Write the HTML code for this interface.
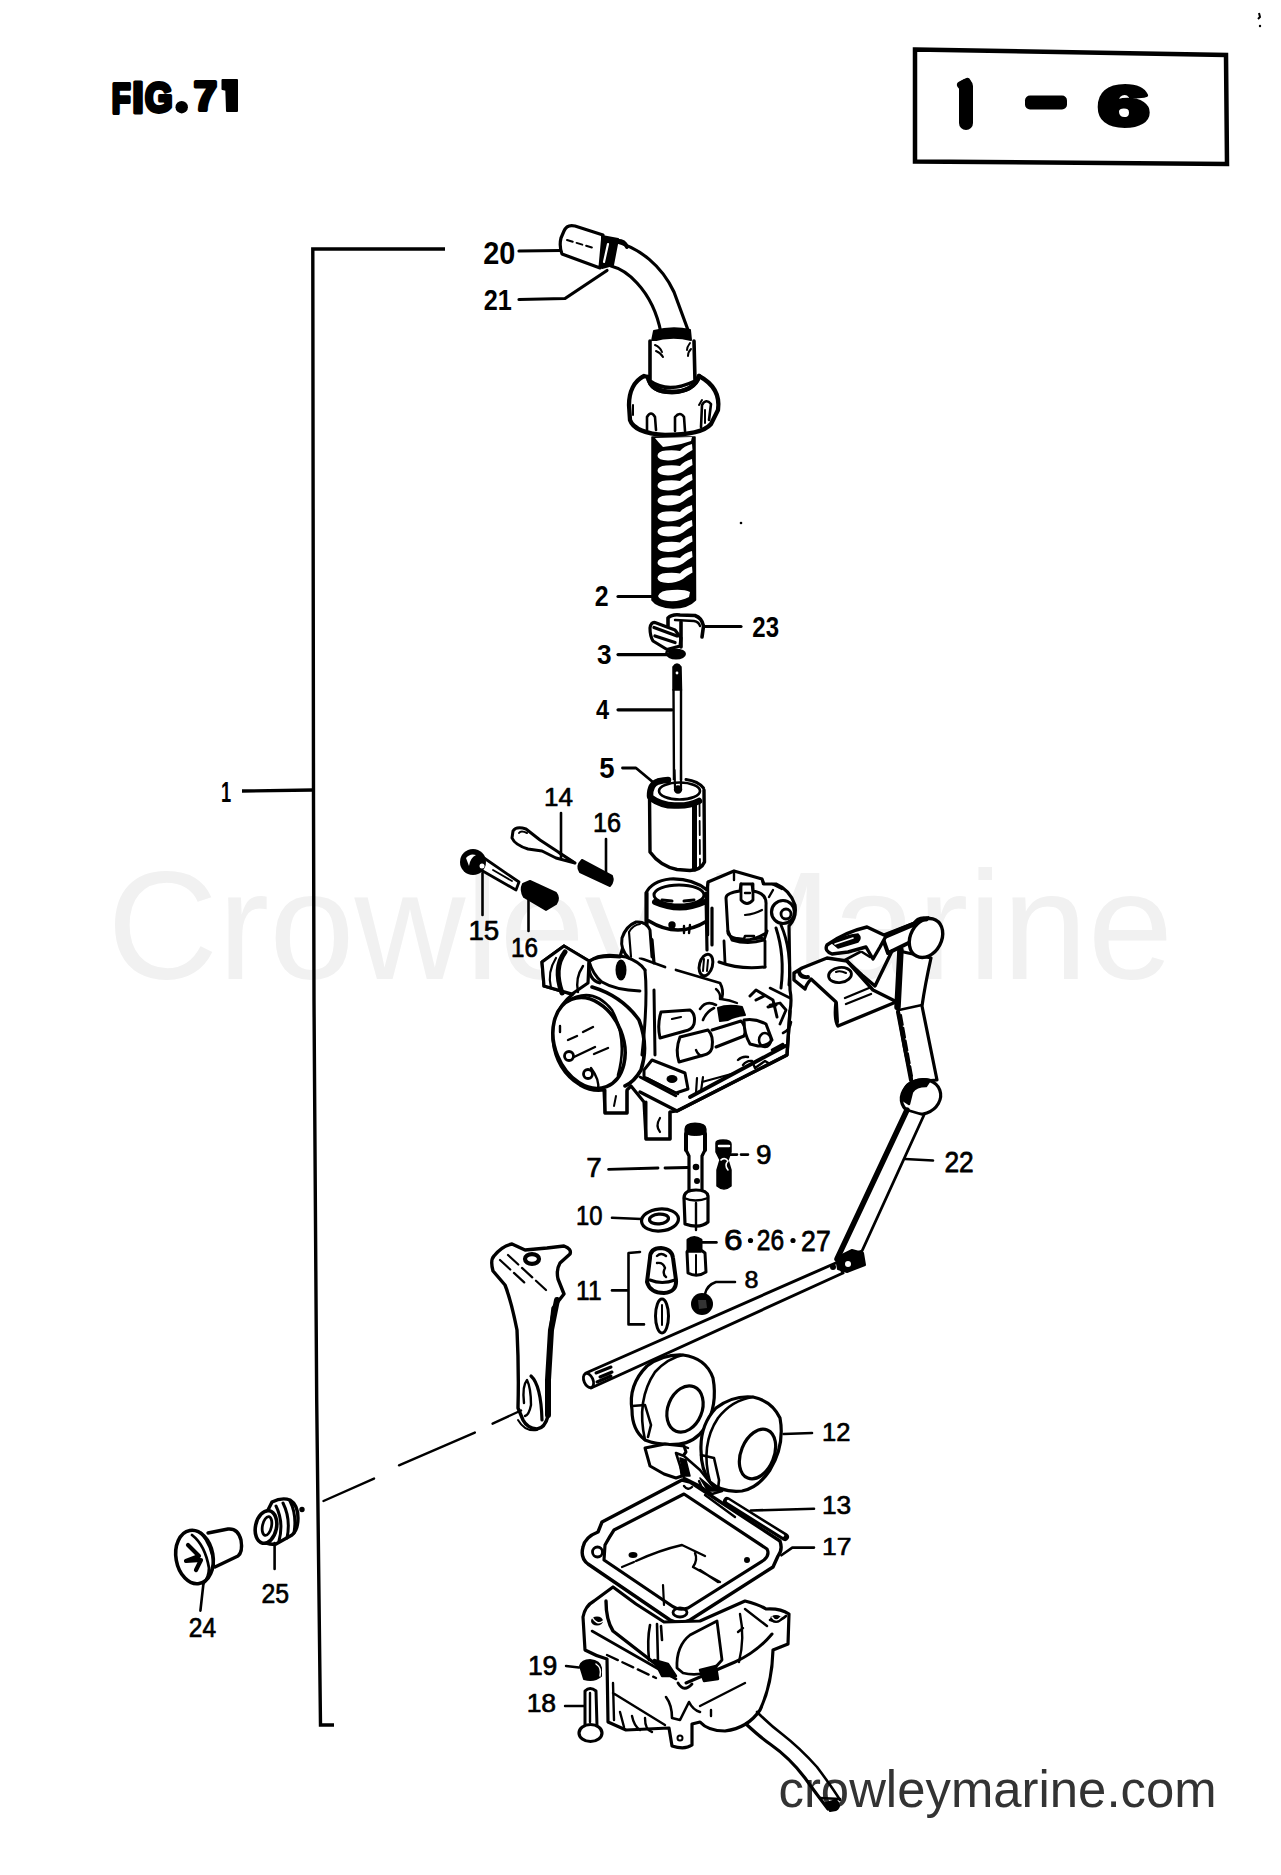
<!DOCTYPE html>
<html><head><meta charset="utf-8"><title>Fig 71</title>
<style>html,body{margin:0;padding:0;background:#fff;} svg{display:block;}</style></head>
<body><svg width="1281" height="1875" viewBox="0 0 1281 1875">
<rect width="1281" height="1875" fill="#fff"/>
<text transform="translate(107.33,978.83) scale(1.5343,1.5319)" font-family="Liberation Sans, sans-serif" font-weight="normal" font-size="100" fill="#f1f1f1" >Crowley Marine</text>
<text transform="translate(111.83,112.50) scale(0.3100,0.4275)" font-family="Liberation Sans, sans-serif" font-weight="bold" font-size="100" fill="#000" stroke="#000" stroke-width="9.36" stroke-linejoin="round">F</text>
<text transform="translate(131.75,113.00) scale(0.4500,0.4420)" font-family="Liberation Sans, sans-serif" font-weight="bold" font-size="100" fill="#000" stroke="#000" stroke-width="6.79" stroke-linejoin="round">I</text>
<text transform="translate(145.08,112.08) scale(0.3544,0.4225)" font-family="Liberation Sans, sans-serif" font-weight="bold" font-size="100" fill="#000" stroke="#000" stroke-width="9.47" stroke-linejoin="round">G</text>
<circle cx="181.7" cy="107.2" r="6.2" fill="#000"/>
<text transform="translate(194.06,110.41) scale(0.4106,0.4118)" font-family="Liberation Sans, sans-serif" font-weight="bold" font-size="100" fill="#000" stroke="#000" stroke-width="9.71" stroke-linejoin="round">7</text>
<path d="M226,80 L237,80 L237,111 L227,111 Z M222.5,80 L227,80 L227,90 L222.5,89 Z" fill="#000" stroke="#000" stroke-width="2" stroke-linejoin="round"/>
<path d="M915,49.5 L1226,55 L1227,164 L915,161.5 Z" fill="none" stroke="#000" stroke-width="4.5"/>
<path d="M966,86 L966,123" stroke="#000" stroke-width="14" stroke-linecap="round"/>
<path d="M961,85 L967,82" stroke="#000" stroke-width="8" stroke-linecap="round"/>
<rect x="1025" y="95.5" width="42" height="14" rx="5" fill="#000"/>
<text transform="translate(1098.38,124.95) scale(0.9062,0.5493)" font-family="Liberation Sans, sans-serif" font-weight="bold" font-size="100" fill="#000" stroke="#000" stroke-width="9.10" stroke-linejoin="round">6</text>
<path d="M1259,13 L1260,17 L1258,19" stroke="#000" stroke-width="2" fill="none"/><circle cx="1260" cy="26" r="1.2" fill="#000"/>
<path d="M445,249 L312.8,249 L313.5,800 L314,1000 L316.7,1400 L320.5,1725 L334,1725" fill="none" stroke="#000" stroke-width="3.4"/>
<path d="M242,791 L313,790" stroke="#000" stroke-width="3.3"/>
<text transform="translate(483.13,264.18) scale(0.2885,0.3169)" font-family="Liberation Sans, sans-serif" font-weight="bold" font-size="100" fill="#000" >20</text>
<text transform="translate(483.74,310.00) scale(0.2524,0.3036)" font-family="Liberation Sans, sans-serif" font-weight="bold" font-size="100" fill="#000" >21</text>
<text transform="translate(594.85,606.00) scale(0.2490,0.3000)" font-family="Liberation Sans, sans-serif" font-weight="bold" font-size="100" fill="#000" >2</text>
<text transform="translate(752.28,637.41) scale(0.2404,0.2915)" font-family="Liberation Sans, sans-serif" font-weight="bold" font-size="100" fill="#000" >23</text>
<text transform="translate(596.98,663.72) scale(0.2620,0.2817)" font-family="Liberation Sans, sans-serif" font-weight="bold" font-size="100" fill="#000" >3</text>
<text transform="translate(596.03,719.00) scale(0.2358,0.2826)" font-family="Liberation Sans, sans-serif" font-weight="bold" font-size="100" fill="#000" >4</text>
<text transform="translate(599.17,778.45) scale(0.2750,0.3036)" font-family="Liberation Sans, sans-serif" font-weight="bold" font-size="100" fill="#000" >5</text>
<text transform="translate(543.92,806.00) scale(0.2600,0.2522)" font-family="Liberation Sans, sans-serif" font-weight="normal" font-size="100" fill="#000" stroke="#000" stroke-width="2.6" stroke-linejoin="round">14</text>
<text transform="translate(592.98,832.02) scale(0.2525,0.2775)" font-family="Liberation Sans, sans-serif" font-weight="normal" font-size="100" fill="#000" stroke="#000" stroke-width="2.6" stroke-linejoin="round">16</text>
<text transform="translate(468.39,940.22) scale(0.2768,0.2814)" font-family="Liberation Sans, sans-serif" font-weight="normal" font-size="100" fill="#000" stroke="#000" stroke-width="2.6" stroke-linejoin="round">15</text>
<text transform="translate(511.06,956.72) scale(0.2424,0.2817)" font-family="Liberation Sans, sans-serif" font-weight="normal" font-size="100" fill="#000" stroke="#000" stroke-width="2.6" stroke-linejoin="round">16</text>
<text transform="translate(220.90,802.00) scale(0.1830,0.2899)" font-family="Liberation Sans, sans-serif" font-weight="bold" font-size="100" fill="#000" >1</text>
<text transform="translate(586.21,1177.28) scale(0.2783,0.2794)" font-family="Liberation Sans, sans-serif" font-weight="normal" font-size="100" fill="#000" stroke="#000" stroke-width="2.6" stroke-linejoin="round">7</text>
<text transform="translate(756.01,1163.73) scale(0.2783,0.2676)" font-family="Liberation Sans, sans-serif" font-weight="normal" font-size="100" fill="#000" stroke="#000" stroke-width="2.6" stroke-linejoin="round">9</text>
<text transform="translate(576.09,1224.72) scale(0.2384,0.2817)" font-family="Liberation Sans, sans-serif" font-weight="normal" font-size="100" fill="#000" stroke="#000" stroke-width="2.6" stroke-linejoin="round">10</text>
<text transform="translate(723.93,1250.20) scale(0.3348,0.2958)" font-family="Liberation Sans, sans-serif" font-weight="normal" font-size="100" fill="#000" stroke="#000" stroke-width="2.6" stroke-linejoin="round">6</text>
<text transform="translate(756.77,1250.20) scale(0.2451,0.2958)" font-family="Liberation Sans, sans-serif" font-weight="normal" font-size="100" fill="#000" stroke="#000" stroke-width="2.6" stroke-linejoin="round">26</text>
<text transform="translate(801.07,1250.50) scale(0.2663,0.3000)" font-family="Liberation Sans, sans-serif" font-weight="normal" font-size="100" fill="#000" stroke="#000" stroke-width="2.6" stroke-linejoin="round">27</text>
<text transform="translate(744.60,1287.75) scale(0.2511,0.2465)" font-family="Liberation Sans, sans-serif" font-weight="normal" font-size="100" fill="#000" stroke="#000" stroke-width="2.6" stroke-linejoin="round">8</text>
<text transform="translate(576.03,1300.00) scale(0.2462,0.2754)" font-family="Liberation Sans, sans-serif" font-weight="normal" font-size="100" fill="#000" stroke="#000" stroke-width="2.6" stroke-linejoin="round">11</text>
<text transform="translate(944.38,1171.60) scale(0.2634,0.2943)" font-family="Liberation Sans, sans-serif" font-weight="normal" font-size="100" fill="#000" stroke="#000" stroke-width="2.6" stroke-linejoin="round">22</text>
<text transform="translate(821.96,1440.50) scale(0.2551,0.2643)" font-family="Liberation Sans, sans-serif" font-weight="normal" font-size="100" fill="#000" stroke="#000" stroke-width="2.6" stroke-linejoin="round">12</text>
<text transform="translate(821.90,1513.54) scale(0.2626,0.2648)" font-family="Liberation Sans, sans-serif" font-weight="normal" font-size="100" fill="#000" stroke="#000" stroke-width="2.6" stroke-linejoin="round">13</text>
<text transform="translate(821.88,1555.00) scale(0.2653,0.2464)" font-family="Liberation Sans, sans-serif" font-weight="normal" font-size="100" fill="#000" stroke="#000" stroke-width="2.6" stroke-linejoin="round">17</text>
<text transform="translate(527.88,1674.73) scale(0.2653,0.2676)" font-family="Liberation Sans, sans-serif" font-weight="normal" font-size="100" fill="#000" stroke="#000" stroke-width="2.6" stroke-linejoin="round">19</text>
<text transform="translate(526.63,1712.24) scale(0.2652,0.2641)" font-family="Liberation Sans, sans-serif" font-weight="normal" font-size="100" fill="#000" stroke="#000" stroke-width="2.6" stroke-linejoin="round">18</text>
<text transform="translate(261.46,1602.73) scale(0.2480,0.2676)" font-family="Liberation Sans, sans-serif" font-weight="normal" font-size="100" fill="#000" stroke="#000" stroke-width="2.6" stroke-linejoin="round">25</text>
<text transform="translate(188.77,1637.30) scale(0.2456,0.2757)" font-family="Liberation Sans, sans-serif" font-weight="normal" font-size="100" fill="#000" stroke="#000" stroke-width="2.6" stroke-linejoin="round">24</text>
<circle cx="750.5" cy="1240.5" r="2.6" fill="#000"/><circle cx="793" cy="1240.5" r="2.6" fill="#000"/>
<text transform="translate(778.46,1806.55) scale(0.5088,0.5213)" font-family="Liberation Sans, sans-serif" font-weight="normal" font-size="100" fill="#333333" >crowleymarine.com</text>
<g fill="none" stroke="#000" stroke-width="3.2" stroke-linejoin="round" stroke-linecap="round">
<!-- leaders 20/21 -->
<path d="M519,251 L561,250.5"/>
<path d="M519,299.5 L565,298.5 L607,270.5"/>
<!-- hose -->
<path d="M614,241 C640,248 662,266 674,292 L688,330 L661,333 C657,312 650,297 637,283 C628,273 619,268 611,266 Z" fill="#fff"/>
<!-- cap 20 -->
<path d="M564,231 Q567,224 575,226 L603,235 L600,268 L562,254 Q559,246 561,238 Z" fill="#fff"/>
<path d="M567,240 L595,248.5" stroke-width="2" stroke-dasharray="6,4"/>
<!-- ring 21 -->
<path d="M602,236 L618,239 L613,265 L602,268 Z" fill="#000" stroke-width="2"/>
<path d="M608,244 L604,262" stroke="#fff" stroke-width="2.2"/>
<path d="M616,241 Q624,240 627,247" stroke-width="4"/>
<!-- hose bottom collar -->
<path d="M654,331 Q672,326 690,330 L691,340 Q672,335 652,341 Z" fill="#000" stroke-width="2"/>
<!-- fitting body -->
<path d="M650,341 L650,381 Q668,394 695,381 L694,341" fill="#fff" stroke-width="3.6"/>
<path d="M655,345 Q660,347 662,352 M656,351 Q661,353 663,357 M690,343 Q687,347 687,350 M691,349 Q688,352 688,356" stroke-width="2"/>
<!-- nut -->
<path d="M644,376 C634,381 629,392 629,405 L630,420 C633,429 647,434 665,435 C690,435 705,431 711,424 L718,410 C720,396 714,384 699,376 C696,387 685,392 672,392 C660,392 650,388 648,377 Z" fill="#fff" stroke-width="4.3"/>
<path d="M648,377 C650,388 660,392 672,392 C685,392 696,387 699,376" stroke-width="4.5"/>
<path d="M647,430 L647,417 Q651,410 655,417 L656,430" stroke-width="2.6"/>
<path d="M675,431 L675,417 Q680,411 684,417 L685,431" stroke-width="2.6"/>
<path d="M701,427 L702,405 Q706,398 711,404 L709,420" stroke-width="2.6"/>
<path d="M699,405 L702,400 M705,410 L705,423" stroke-width="2"/>
<path d="M633,405 L633,415" stroke-width="2"/>
<!-- spring -->
<path d="M652,437 L695,437 L695.5,600 Q688,608 673,608 Q657,607 652,600 Z" fill="#000" stroke-width="1.5"/>
<g fill="#fff" stroke="none">
<path d="M655,438 L692,437 L691,441 Q680,445 670,446 L663,447 Q658,442 655,438 Z"/>
<path d="M657.5,456 Q657.5,451 666,450.5 Q675,450 680,451 Q684,446 692,444 L692.5,450 Q687,453 683,456.5 Q676,460.5 668,460.5 Q658,460 657.5,456 Z"/>
<path d="M657.5,471 Q657.5,466 666,465.5 Q675,465 680,466 Q684,461 692,459 L692.5,465 Q687,468 683,471.5 Q676,475.5 668,475.5 Q658,475 657.5,471 Z"/>
<path d="M657.5,486 Q657.5,481 666,480.5 Q675,480 680,481 Q684,476 692,474 L692.5,480 Q687,483 683,486.5 Q676,490.5 668,490.5 Q658,490 657.5,486 Z"/>
<path d="M657.5,501 Q657.5,496 666,495.5 Q675,495 680,496 Q684,491 692,489 L692.5,495 Q687,498 683,501.5 Q676,505.5 668,505.5 Q658,505 657.5,501 Z"/>
<path d="M657.5,517 Q657.5,512 666,511.5 Q675,511 680,512 Q684,507 692,505 L692.5,511 Q687,514 683,517.5 Q676,521.5 668,521.5 Q658,521 657.5,517 Z"/>
<path d="M657.5,532 Q657.5,527 666,526.5 Q675,526 680,527 Q684,522 692,520 L692.5,526 Q687,529 683,532.5 Q676,536.5 668,536.5 Q658,536 657.5,532 Z"/>
<path d="M657.5,547.5 Q657.5,542.5 666,542.0 Q675,541.5 680,542.5 Q684,537.5 692,535.5 L692.5,541.5 Q687,544.5 683,548.0 Q676,552.0 668,552.0 Q658,551.5 657.5,547.5 Z"/>
<path d="M657.5,563 Q657.5,558 666,557.5 Q675,557 680,558 Q684,553 692,551 L692.5,557 Q687,560 683,563.5 Q676,567.5 668,567.5 Q658,567 657.5,563 Z"/>
<path d="M657.5,578.5 Q657.5,573.5 666,573.0 Q675,572.5 680,573.5 Q684,568.5 692,566.5 L692.5,572.5 Q687,575.5 683,579.0 Q676,583.0 668,583.0 Q658,582.5 657.5,578.5 Z"/>
<path d="M658,596 Q660,590 672,590 Q684,589 690,592 L689,597 Q680,602 668,601 Q659,600 658,596 Z"/>
</g>
<circle cx="741" cy="523" r="1.3" fill="#000" stroke="none"/>
<!-- leader 2 -->
<path d="M618,596.5 L652,596.5"/>
<!-- clip 23 -->
<path d="M650,628 Q651,622 655,622.5 L675,630 L681,638 L680,646 L667,649.5 L653,641 Q650,636 650,628 Z" fill="#fff" stroke-width="3.2"/>
<path d="M654,627.5 L677,636 M655,636 L675,642.5" stroke-width="3.4"/>
<path d="M668,626 L668,618 Q672,614 680,615 L695,615.5 Q702,618 703.5,626 L702,637" stroke-width="3.6"/>
<path d="M675,620 L694,621 Q699,622 700,626" stroke-width="2.4"/>
<path d="M681,622 L681,647" stroke-width="3.6"/>
<path d="M704,626.5 L741,626.5"/>
<!-- washer 3 -->
<ellipse cx="676" cy="654" rx="10" ry="5.5" fill="#000" stroke="none"/><circle cx="668" cy="653" r="1.2" fill="#fff"/>
<path d="M618,654.6 L668,654.6"/>
<!-- needle 4 -->
<path d="M673,667 Q677,661 681,667 L681.5,690 L673,690 Z" fill="#000" stroke-width="1.5"/>
<circle cx="677" cy="673" r="1.4" fill="#fff" stroke="none"/>
<path d="M673.5,690 L674,785 M681,690 L681,792" stroke-width="2.4"/>
<path d="M618,709.8 L672,709.8"/>
<!-- slide 5 -->
<path d="M649.5,795 Q650,780 676,780 Q702,780 704,792 L704.5,862 Q701,870 690,870.5 L677,869.5 Q660,866 650,852 Z" fill="#fff" stroke="none"/>
<path d="M649.5,793 L650,852 Q660,866 677,869.5 L690,870.5 Q701,870 704.5,862 L704,790" stroke-width="3.4"/>
<path d="M650,796 Q650,784 658,781.5 Q664,780 668,780" stroke-width="6.5"/>
<path d="M686,779.5 Q698,781 703.5,788" stroke-width="3"/>
<ellipse cx="679.5" cy="791" rx="20.5" ry="8.5" fill="#fff" stroke-width="2.6"/>
<path d="M651,798 Q662,806 676,805.5 Q690,806 699,801" stroke-width="6.5"/>
<path d="M694.5,805 L694.5,869" stroke-width="5"/>
<path d="M699.5,802 L700,866" stroke-width="1.8" stroke-dasharray="14,5"/>
<path d="M674.5,770 L675,788 M681,770 L681,790" stroke-width="2.2"/><circle cx="678" cy="789.5" r="2.6" fill="#000"/>
<path d="M622.5,768 L636,768 L654,783" stroke-width="2.8"/>
</g>

<g fill="none" stroke="#000" stroke-width="3" stroke-linejoin="round" stroke-linecap="round">
<!-- pilot screw 14 -->
<path d="M513,831 Q516,826 526,829 L540,840 L575,863 L556,858 L542,851 L528,849 Q515,845 512,838 Z" fill="#fff"/>
<path d="M519,833 Q521,830 527,833" stroke-width="2"/>
<path d="M559,853 L575,863" stroke-width="2.4"/>
<path d="M561,813 L561,858" stroke-width="2.6"/>
<!-- spring 16 upper -->
<path d="M582,860 L612,876 Q614,881 610,886 L580,872 Q576,866 582,860 Z" fill="#000" stroke-width="2"/>
<path d="M606,839 L606,873" stroke-width="2.6"/>
<!-- screw 15 -->
<path d="M484,858 L519,882 L516,890 L481,870 Z" fill="#fff" stroke-width="2.8"/>
<circle cx="473" cy="862" r="13" fill="#000" stroke="none"/>
<path d="M466,858 Q470,853 476,855 Q470,858 469,866 Z" fill="#fff" stroke="none"/>
<circle cx="482" cy="866" r="2.5" fill="#fff" stroke="none"/>
<path d="M493,870 L512,881" stroke-width="1.8"/>
<!-- spring 16 lower -->
<path d="M523,884 L530,881 L556,893 Q560,898 556,904 L546,910 L524,897 Q520,890 523,884 Z" fill="#000" stroke-width="2"/>
<path d="M482.5,873 L482.5,915" stroke-width="2.6"/>
<path d="M528.5,900 L528.5,931" stroke-width="2.6"/>
</g>

<g fill="none" stroke="#000" stroke-width="3" stroke-linejoin="round" stroke-linecap="round">
<!-- main silhouette -->
<path d="M646,893 Q652,881 670,879 Q692,878 707,890 L708,882 L734,871 L762,879 L764,884 L776,884 Q790,890 795,905 Q797,918 789,926 L790,990 Q792,1000 790,1011 L787,1055 L677,1111 L670,1112 L670,1139 L646,1139 L644,1102 L631,1086 L627,1090 L627,1113 L605,1113 L604,1090 Q592,1092 580,1085 Q556,1070 553,1040 Q552,1010 573,994 L571,994 L544,986 L542,962 L564,946 L589,961 Q600,955 620,957 L628,930 Q640,918 646,928 Z" fill="#fff" stroke-width="3.2"/>
<!-- slide bore top -->
<ellipse cx="679" cy="895" rx="25" ry="10" fill="#fff" stroke-width="3"/>
<path d="M655,902 Q680,913 704,902" stroke-width="6"/>
<path d="M649,921 Q678,939 707,921" stroke-width="3.6"/>
<path d="M662,900 L672,901 M684,901 L694,900" stroke-width="3"/>
<circle cx="672" cy="925" r="2.2" fill="#000"/><path d="M684,926 L684,933 M690,925 L689,933" stroke-width="2.4"/>
<path d="M647,893 L647,935 L652,940 L654,963" stroke-width="3.2"/>
<path d="M706,893 L707,950 M712,908 L712,945" stroke-width="3.2"/>
<!-- choke plunger -->
<path d="M708,882 L708,935 M734,871 L734,880 M762,879 L763,884" stroke-width="2.4"/>
<path d="M726,898 Q726,893 740,891 L741,884 L752,884 L753,891 Q767,893 766,905 L766,933 Q755,940 745,940 Q730,939 728,933 Z" fill="#fff" stroke-width="3"/>
<path d="M741,884 L741,900 Q747,907 753,900 L753,884" stroke-width="2.8"/>
<path d="M745,893 L750,893" stroke-width="2.4"/>
<path d="M745,915 Q755,914 762,910" stroke-width="2.2"/>
<path d="M728,931 L732,940 Q748,945 764,940 L767,931" stroke-width="3"/>
<path d="M734,938 L744,939 L745,936 L754,936 L754,939 L762,938" stroke-width="2.4"/>
<path d="M724,941 L725,963 M765,941 L765,967" stroke-width="2.8"/>
<path d="M719,962 Q740,970 765,967" stroke-width="3"/>
<!-- right round -->
<circle cx="783" cy="912" r="11.5" fill="#fff" stroke-width="3.2"/>
<circle cx="786" cy="914" r="5" stroke-width="2.8"/>
<path d="M772,884 L782,889 M773,890 L769,897" stroke-width="2.4"/>
<path d="M781,925 Q792,950 789,985 M776,928 Q785,955 781,988" stroke-width="3"/>
<path d="M770,988 L790,998" stroke-width="2.6"/>
<!-- small oval -->
<ellipse cx="706" cy="965" rx="6.5" ry="11" transform="rotate(15 706 965)" fill="#fff" stroke-width="3"/>
<path d="M704,959 L703,971 M708,960 L707,971" stroke-width="2"/>
<!-- mid body lines -->
<path d="M640,958 L665,967 M676,970 L720,983 Q724,990 722,998" stroke-width="2.8"/>
<path d="M589,961 Q593,975 602,982 Q615,990 640,991" stroke-width="2.8"/>
<!-- inlet tube -->
<path d="M542,962 L564,946 L589,961 L588,983 L572,994 L544,986 Z" fill="#fff" stroke-width="3.2"/>
<path d="M565,952 Q553,968 562,993" stroke-width="5"/>
<path d="M556,958 Q547,972 551,988" stroke-width="2.2"/>
<path d="M583,966 Q575,978 578,992" stroke-width="2.4"/>
<path d="M590,961 Q600,952 626,957 Q640,962 645,970" stroke-width="3"/>
<path d="M589,963 Q588,980 600,983" stroke-width="3"/>
<ellipse cx="621" cy="970" rx="5.5" ry="10.5" fill="#000" stroke="none"/>
<!-- choke knob on top-left -->
<path d="M629,958 Q620,950 622,938 Q626,926 636,922 Q646,921 650,930 L652,957" fill="#fff" stroke-width="3"/>
<path d="M631,957 L629,932 Q633,925 640,924" stroke-width="2.2"/>
<!-- big round cover -->
<ellipse cx="589" cy="1043" rx="34" ry="47" transform="rotate(-22 589 1043)" fill="#fff" stroke-width="3.6"/>
<path d="M566,1002 Q592,985 612,1010 Q628,1040 618,1075" stroke-width="2.6"/>
<path d="M592,987 Q622,996 639,1020 Q649,1046 641,1070 Q634,1082 625,1086" stroke-width="3.6"/>
<path d="M560,1026 L560,1032 M568,1040 L577,1036 M583,1032 L593,1027" stroke-width="2.4"/>
<path d="M574,1057 L595,1047 M594,1054 L608,1048" stroke-width="2.4"/>
<circle cx="569" cy="1056" r="4.5" stroke-width="2.8"/>
<circle cx="588" cy="1074" r="4.5" stroke-width="2.8"/>
<path d="M591,1068 Q600,1080 598,1090" stroke-width="2.4"/>
<!-- body front -->
<path d="M645,970 Q648,1000 642,1055 M654,990 L655,1055" stroke-width="3"/>
<path d="M661,1012 L690,1010 Q696,1014 694,1024 Q692,1030 685,1031 L660,1038 Q657,1025 661,1012 Z" fill="#fff" stroke-width="3"/>
<path d="M672,1019 L681,1017" stroke-width="2.2"/>
<path d="M680,1037 L708,1030 Q714,1036 712,1048 Q710,1054 704,1055 L679,1062 Q675,1050 680,1037 Z" fill="#fff" stroke-width="3"/>
<path d="M696,1050 Q698,1055 702,1056" stroke-width="2.4"/>
<path d="M712,1030 L741,1021 Q746,1026 745,1033 L744,1036 L716,1047" stroke-width="3"/>
<path d="M718,1008 Q728,1004 742,1007 L745,1015 Q735,1016 728,1020 L720,1021 Z" fill="#000" stroke-width="2"/>
<path d="M700,1009 Q706,1000 716,1005 M703,1020 Q706,1012 714,1008" stroke-width="2.6"/>
<path d="M720,999 Q721,993 716,989 M721,999 Q730,1000 737,1003" stroke-width="2.4"/>
<path d="M744,1020 Q755,1018 766,1024 L772,1040 Q768,1046 758,1046 L750,1044 Q744,1034 744,1020 Z" fill="#fff" stroke-width="3"/>
<ellipse cx="765" cy="1040" rx="6" ry="7" stroke-width="2.6"/>
<path d="M750,996 L756,990 L773,1000 L777,1017 M756,1000 L764,996 M768,1007 L776,1005" stroke-width="3"/>
<path d="M770,1005 L780,1003 L786,1010 L780,1024" stroke-width="2.8"/>
<path d="M783,1033 Q790,1030 791,1022 M772,1050 L783,1044" stroke-width="2.6"/>
<path d="M738,1060 Q742,1056 748,1057 M743,1065 Q747,1060 752,1061 L755,1068 L765,1061 L770,1064" stroke-width="2.4"/>
<path d="M702,1082 L735,1073 M697,1078 L696,1093 M701,1091 L703,1077" stroke-width="2.2"/>
<!-- base flange -->
<path d="M640,1092 L677,1111 L787,1055 L790,1011" stroke-width="3.4"/>
<path d="M690,1097 L785,1046" stroke-width="3.8"/>
<path d="M644,1070 L652,1060 L685,1073 L688,1089 L676,1093 L644,1077 Z" fill="#fff" stroke-width="3"/>
<path d="M647,1078 L678,1094" stroke-width="2.4"/>
<ellipse cx="672" cy="1079" rx="5.5" ry="4" fill="#000" stroke="none"/>
<path d="M640,1077 L676,1096" stroke-width="2.6"/>
<!-- bottom tabs -->
<path d="M605,1090 L605,1113 L627,1113 L627,1091" stroke-width="3"/>
<path d="M616,1096 L614,1106" stroke-width="2"/>
<path d="M646,1102 L646,1139 L670,1139 L670,1112" stroke-width="3"/>
<path d="M660,1118 Q655,1126 660,1132" stroke-width="2.2"/>
</g>

<g fill="none" stroke="#000" stroke-width="3" stroke-linejoin="round" stroke-linecap="round">
<!-- lever arm upper -->
<path d="M899,951 L898,1009 Q903,1045 912,1082 L937,1080 Q930,1045 922,1006 Q925,985 931,958 Z" fill="#fff" stroke-width="3.2"/>
<path d="M899,1010 L922,1005" stroke-width="2.4"/>
<path d="M900.5,950 L897.5,1007" stroke-width="6.5"/>
<path d="M901,1015 L912,1076" stroke-width="2" stroke-dasharray="10,3"/>
<path d="M898,1012 L911,1080" stroke-width="4"/>
<!-- top bar -->
<path d="M882,936 L928,918 L935,930 L888,953 Z" fill="#fff" stroke-width="4"/>
<path d="M886,936 L926,919" stroke-width="5"/>
<!-- lever top ellipse -->
<ellipse cx="926" cy="938" rx="15.5" ry="20.5" transform="rotate(28 926 938)" fill="#fff" stroke-width="3.4"/>
<path d="M914,925 Q918,918 926,919" stroke-width="5"/>
<!-- bracket top hook -->
<path d="M827,945 Q845,932 867,927 L886,936 L880,947 L873,959 L866,947 L848,952 L832,954 Q824,951 827,945 Z" fill="#fff" stroke-width="3.4"/>
<path d="M832,943 Q845,935 858,934 Q862,938 858,942 L838,948 Z" fill="#000" stroke-width="1.5"/>
<path d="M835,944 L853,938" stroke="#fff" stroke-width="1.6"/>
<!-- bracket plate -->
<path d="M794,973 L802,968 L827,958 L847,961 L873,990 L895,1001 L896,1002 L838,1026 Q834,1020 836,1002 L811,979 Q806,985 805,989 L794,980 Z" fill="#fff" stroke-width="3.4"/>
<path d="M799,972 Q801,978 808,977" stroke-width="4"/>
<path d="M847,961 L862,975 L875,986 L892,951" stroke-width="3.4"/>
<path d="M845,960 L860,952 M862,952 L870,957" stroke-width="2.6"/>
<ellipse cx="840" cy="975" rx="11.5" ry="7.5" transform="rotate(-8 840 975)" stroke-width="2.8"/>
<path d="M836,972 Q840,970 846,973" stroke-width="2"/>
<path d="M845,998 L869,988 M846,1004 L871,994" stroke-width="2.4"/>
<path d="M837,1003 L838,1022" stroke-width="2"/>
<!-- pivot -->
<ellipse cx="921" cy="1097" rx="20" ry="17" transform="rotate(-20 921 1097)" fill="#fff" stroke-width="3.2"/>
<path d="M903,1100 Q902,1086 912,1082 Q920,1078 930,1080 L926,1086 Q916,1086 912,1092 L909,1104 Z" fill="#000" stroke-width="2.5"/>
<!-- lower arm -->
<path d="M907,1110 L837,1259 L862,1251 L924,1115 Z" fill="#fff" stroke-width="2.8"/>
<path d="M907,1110 L837,1259" stroke-width="5.5"/>
<path d="M905,1159 L933,1160.5" stroke-width="2.6"/>
<!-- rod -->
<path d="M586,1373 L838,1262 L843,1273 L591,1388 Z" fill="#fff" stroke-width="3"/>
<ellipse cx="588.5" cy="1380.5" rx="4.5" ry="7.5" transform="rotate(-24 588.5 1380.5)" fill="#fff" stroke-width="2.8"/>
<path d="M596,1373 L611,1367 M597,1382 L611,1376 M600,1377 L612,1372" stroke-width="3"/>
<!-- rod end fitting -->
<path d="M836,1258 L852,1250 L863,1253 L865,1265 L847,1272 L838,1269 Z" fill="#000" stroke-width="2"/>
<circle cx="848" cy="1264" r="3" fill="#fff" stroke="none"/>
<circle cx="833" cy="1267" r="1.5" fill="#000"/>
</g>

<g fill="none" stroke="#000" stroke-width="3" stroke-linejoin="round" stroke-linecap="round">
<!-- part 7 needle jet -->
<path d="M686,1129 Q686,1124 695,1124 Q705,1124 705,1129 L705,1150 L702,1156 L702,1192 L689,1192 L689,1156 L686,1150 Z" fill="#fff" stroke-width="3.2"/>
<path d="M686,1129 Q686,1124 695,1124 Q705,1124 705,1129 L705,1134 Q695,1137 686,1134 Z" fill="#000" stroke-width="1"/>
<path d="M686,1134 L686,1150 M705,1134 L705,1150" stroke-width="4"/>
<circle cx="696" cy="1167" r="1.8" fill="#000"/><circle cx="697" cy="1181" r="1.5" fill="#000"/>
<path d="M684,1198 Q684,1190 696,1190 Q707,1190 708,1196 L708,1222 Q700,1229 685,1224 Z" fill="#fff" stroke-width="3.2"/>
<path d="M684,1198 Q695,1203 708,1198" stroke-width="2.4"/>
<path d="M696,1203 L696,1230" stroke-width="2.4"/>
<path d="M608.5,1169.3 L658,1168 M665,1168 L688,1167.5" stroke-width="2.8"/>
<!-- part 9 -->
<path d="M716,1143 Q716,1140 723,1140 Q731,1140 731,1144 L731,1152 L728,1160 L731,1170 L731,1186 Q724,1192 717,1186 L717,1170 L720,1160 L716,1152 Z" fill="#000" stroke-width="1.5"/>
<path d="M719,1146 L729,1146" stroke="#fff" stroke-width="2.5"/>
<path d="M721,1160 Q725,1157 728,1161 Q724,1165 728,1170" stroke="#fff" stroke-width="1.6"/>
<path d="M730,1154.6 L737,1154.6 M741,1154.6 L748,1154.6" stroke-width="2.6"/>
<!-- washer 10 -->
<ellipse cx="660" cy="1220" rx="18.5" ry="11" transform="rotate(-5 660 1220)" fill="#fff" stroke-width="3.2"/>
<ellipse cx="659" cy="1219" rx="9.5" ry="4.8" transform="rotate(-5 659 1219)" stroke-width="3.2"/>
<path d="M612,1217.8 L641,1219" stroke-width="2.6"/>
<!-- part 6 -->
<path d="M688,1240 Q694,1235 701,1240 L701,1250 L705,1253 L706,1272 Q697,1278 688,1273 L687,1252 L688,1250 Z" fill="#fff" stroke-width="3"/>
<path d="M688,1240 Q694,1235 701,1240 L701,1252 L688,1252 Z" fill="#000" stroke-width="1.5"/>
<path d="M696,1255 L696,1275" stroke-width="2"/>
<path d="M701,1242.4 L716.4,1242.4" stroke-width="2.8"/>
<!-- part 8 -->
<circle cx="702" cy="1304" r="11" fill="#000" stroke="none"/>
<path d="M698,1300 L706,1300 L707,1308 L699,1309 Z" fill="#333" stroke="none"/>
<path d="M735,1282 L716,1282 Q707,1285 705,1294" stroke-width="2.6"/>
<!-- part 11 -->
<path d="M650,1258 Q650,1248 661,1248 Q672,1249 673,1258 L676,1280 Q677,1292 664,1293 Q650,1293 647,1282 Z" fill="#fff" stroke-width="4"/>
<path d="M657,1256 Q661,1252 666,1256 M657,1263 Q663,1262 665,1268 Q662,1274 666,1277" stroke-width="2.4"/>
<path d="M650,1280 Q662,1285 675,1280" stroke-width="3"/>
<ellipse cx="662" cy="1316" rx="6.5" ry="17" fill="#fff" stroke-width="3"/>
<path d="M662,1305 L662,1325" stroke-width="2"/>
<path d="M640,1252 L628.5,1253 L628.5,1324.4 L644,1324.4" stroke-width="2.6"/>
<path d="M612,1290.4 L627.4,1290.4" stroke-width="2.6"/>
</g>

<g fill="none" stroke="#000" stroke-width="3" stroke-linejoin="round" stroke-linecap="round">
<path d="M493,1271 Q490,1260 494,1256 Q502,1246 512,1244 L525,1250 L547,1248 L564,1246 Q572,1249 570,1254 L560,1263 Q556,1270 558,1279 L564,1294 L553,1308 Q549,1340 548,1383 L548,1416 Q545,1428 537,1429 Q527,1428 523,1420 L518,1408 Q519,1370 517,1330 Q511,1300 505,1285 Z" fill="#fff" stroke-width="3.4"/>
<path d="M557,1300 L551,1330 L548,1380 L548,1415" stroke-width="6"/>
<ellipse cx="532" cy="1259" rx="7" ry="4.8" fill="#fff" stroke-width="4.2"/>
<path d="M500,1260 L527,1285 M508,1255 L546,1290" stroke-width="2.2" stroke-dasharray="14,5"/>
<path d="M524,1403 Q522,1386 527,1380 Q531,1388 531,1405 Q529,1415 525,1416" stroke-width="2.4"/>
<path d="M531,1376 Q541,1385 542,1420" stroke-width="3.2"/>
<path d="M518,1420 Q525,1432 537,1430" stroke-width="2"/>
<!-- dashed leader to 25 -->
<path d="M323.5,1501 L374,1478.6 M399,1465.3 L474.8,1432.6 M492.6,1423.7 L521,1410.5" stroke-width="2.4"/>
</g>

<g fill="none" stroke="#000" stroke-width="3" stroke-linejoin="round" stroke-linecap="round">
<!-- gasket 17 -->
<path d="M682,1480 L690,1482 L780,1541 Q783,1550 778,1556 L773,1567 L690,1620 Q680,1625 670,1620 L588,1564 Q580,1558 583,1547 Q585,1537 598,1532 L602,1522 Z" fill="#fff" stroke-width="3.4"/>
<path d="M684,1494 L767,1549 Q770,1555 764,1560 L688,1608 Q679,1611 672,1606 L604,1560 L605,1545 Q610,1536 614,1530 Z" stroke-width="3.2"/>
<circle cx="597.5" cy="1552" r="5" stroke-width="2.8"/>
<ellipse cx="680" cy="1612.5" rx="7" ry="4.5" stroke-width="2.8"/>
<path d="M684,1486 Q688,1491 692,1487" stroke-width="2.4"/>
<path d="M636,1561 Q660,1550 682,1545 L705,1556 M695,1553 Q698,1560 693,1567 L720,1582 M700,1570 L718,1582" stroke-width="2.4"/>
<path d="M622,1567 L634,1562 M663,1585 L664,1605" stroke-width="2.2"/>
<ellipse cx="633" cy="1555" rx="4.5" ry="3" fill="#000" stroke="none"/>
<circle cx="747" cy="1560" r="1.5" fill="#000"/>
<path d="M781.4,1555.3 L792.3,1547.6 L814,1547.6" stroke-width="2.6"/>
<!-- float pin 13 -->
<path d="M727,1501 L785,1537" stroke-width="8"/>
<path d="M728,1501 L783,1535.5" stroke="#fff" stroke-width="2.4"/>
<path d="M750.8,1510.5 L814,1508.7" stroke-width="2.6"/>
<path d="M705,1495 L735,1517" stroke-width="2.4"/>
<!-- float 12 left -->
<path d="M632,1410 Q628,1385 647,1366 Q663,1354 683,1355 Q706,1358 713,1378 Q718,1405 705,1428 Q694,1443 679,1444 Q660,1446 645,1440 Q632,1430 632,1410 Z" fill="#fff" stroke-width="3.2"/>
<path d="M645,1440 Q636,1400 655,1372 Q668,1358 683,1355" stroke-width="2.6"/>
<ellipse cx="685" cy="1409" rx="17" ry="24" transform="rotate(22 685 1409)" stroke-width="3.2"/>
<path d="M632,1406 L645,1405 L651,1425 L648,1437" stroke-width="2.6"/>
<!-- float 12 right -->
<path d="M701,1450 Q700,1425 716,1408 Q733,1395 753,1397 Q772,1401 780,1418 Q785,1445 770,1470 Q758,1488 742,1491 Q722,1493 710,1482 Q701,1470 701,1450 Z" fill="#fff" stroke-width="3.2"/>
<path d="M710,1482 Q700,1445 718,1418 Q732,1400 753,1397" stroke-width="2.6"/>
<ellipse cx="757.5" cy="1454" rx="16.5" ry="26" transform="rotate(22 757.5 1454)" stroke-width="3.2"/>
<path d="M701,1455 L714,1458 L719,1480 L718,1490" stroke-width="2.6"/>
<!-- hinge -->
<path d="M645,1448 L665,1444 L684,1446 L686,1452 L680,1460 L682,1476 L676,1478 L664,1474 L650,1466 Z" fill="#fff" stroke-width="3"/>
<path d="M676,1453 L684,1456 L700,1470 L714,1488 L722,1491 L712,1494 L700,1486 L684,1478 Z" fill="#fff" stroke-width="2.6"/>
<path d="M680,1458 L686,1460 L690,1476 L684,1476 Z" fill="#000" stroke-width="1.5"/>
<path d="M700,1478 L712,1488 L718,1491 L708,1491 Z" fill="#000" stroke-width="1.5"/>
<path d="M683,1446 L688,1448 M699,1481 L702,1488" stroke-width="2.4"/>
<path d="M783.6,1434 L812,1433" stroke-width="2.6"/>
</g>

<g fill="none" stroke="#000" stroke-width="3" stroke-linejoin="round" stroke-linecap="round">
<!-- bowl body -->
<path d="M583,1617 Q585,1606 594,1601 L613,1587 L636,1604 L664,1622 L700,1621 L745,1601 Q760,1605 766,1609 Q780,1608 789,1614 L788,1644 L773,1650 Q772,1685 760,1710 Q748,1728 725,1731 Q708,1731 700,1722 L692,1724 L692,1745 Q685,1750 672,1746 L669,1728 L626,1730 L608,1722 L607,1659 Q596,1656 585,1650 Z" fill="#fff" stroke-width="3.2"/>
<!-- rim lines -->
<path d="M592,1631 L676,1679" stroke-width="2.6"/>
<path d="M607,1655 L656,1678" stroke-width="2.4" stroke-dasharray="12,5"/>
<path d="M606,1601 Q606,1620 613,1631 L649,1659 L669,1674" stroke-width="3.4"/>
<path d="M686,1683 L735,1662 Q757,1652 772,1634" stroke-width="3"/>
<path d="M745,1609 L767,1626" stroke-width="2.4"/>
<path d="M770,1620 Q780,1622 786,1616" stroke-width="2.6"/>
<ellipse cx="597" cy="1621" rx="6" ry="4.5" fill="#000" stroke="none"/>
<path d="M592,1617 Q597,1626 603,1621" stroke="#fff" stroke-width="1.4"/>
<ellipse cx="776" cy="1619" rx="6" ry="4" fill="#000" stroke="none"/>
<path d="M772,1617 Q776,1623 781,1617" stroke="#fff" stroke-width="1.4"/>
<!-- inner post -->
<path d="M650,1625 Q647,1640 649,1660 M657,1624 L658,1662 M661,1626 L662,1640" stroke-width="2.6"/>
<path d="M677,1668 Q676,1646 690,1635 L717,1621 L722,1660 L711,1672 Q695,1676 683,1673 Z" fill="#fff" stroke-width="2.8"/>
<path d="M740,1614 Q745,1638 739,1662 M743,1628 L738,1632" stroke-width="2.4"/>
<path d="M654,1660 L668,1664 L676,1676 L662,1676 Z" fill="#000" stroke-width="2.4"/>
<path d="M700,1670 L716,1666 L718,1679 L704,1681 Z" fill="#000" stroke-width="2.4"/>
<path d="M678,1683 Q684,1693 692,1684" stroke-width="2.8"/>
<!-- lower front -->
<path d="M613,1683 L614,1720 M613,1693 L665,1725" stroke-width="2.4"/>
<path d="M620,1712 L624,1727 M632,1716 Q634,1726 640,1730 M645,1718 Q645,1730 652,1732" stroke-width="2.4"/>
<path d="M666,1697 Q672,1705 672,1718 L680,1720 L689,1702 Q693,1710 700,1712" stroke-width="2.6"/>
<path d="M700,1706 L745,1683" stroke-width="2.4"/>
<path d="M711,1710 L711,1716" stroke-width="2.4"/>
<circle cx="680" cy="1738" r="2.5" stroke-width="2"/>
<!-- drain tube -->
<path d="M757,1712 Q770,1725 782,1734 Q800,1748 817,1767 Q832,1787 840,1800" stroke-width="2.6"/>
<path d="M746,1724 Q760,1737 770,1744 Q790,1758 805,1778 Q815,1792 828,1809" stroke-width="3.2"/>
<path d="M826,1803 L836,1800 Q842,1806 836,1810 L830,1811 Z" fill="#000" stroke-width="2"/>
<path d="M820,1798 L840,1799" stroke-width="2.4"/>
<!-- screw 18 / nut 19 -->
<path d="M580,1666 Q582,1660 590,1660 Q600,1661 601,1668 L601,1676 Q594,1682 584,1679 Z" fill="#000" stroke-width="2"/>
<path d="M596,1664 Q602,1668 600,1676" stroke="#fff" stroke-width="1.5"/>
<path d="M585,1691 Q590,1686 596,1691 L597,1726 L585,1726 Z" fill="#fff" stroke-width="3"/>
<path d="M590,1693 L590,1722" stroke-width="2.4"/>
<ellipse cx="590.5" cy="1733" rx="11.5" ry="8.5" fill="#fff" stroke-width="3.2"/>
<path d="M566,1666 L579,1667.5 M565,1706 L584,1706" stroke-width="2.4"/>
</g>

<g fill="none" stroke="#000" stroke-width="3" stroke-linejoin="round" stroke-linecap="round">
<!-- part 25 -->
<path d="M272,1502 Q282,1497 290,1500 Q298,1505 298,1518 Q298,1530 292,1535 L276,1544 Q262,1546 257,1532 Z" fill="#fff" stroke-width="3.4"/>
<ellipse cx="266" cy="1527" rx="10.5" ry="16.5" transform="rotate(12 266 1527)" fill="#fff" stroke-width="3.6"/>
<ellipse cx="267" cy="1526" rx="4.5" ry="9.5" transform="rotate(12 267 1526)" stroke-width="2.8"/>
<path d="M276,1506 Q284,1522 279,1541 M283,1503 Q291,1519 287,1538 M290,1501 Q297,1515 294,1533" stroke-width="3"/>
<path d="M274.6,1543 L274.6,1569" stroke-width="2.6"/>
<circle cx="302" cy="1509.5" r="1.2" fill="#000"/>
<!-- part 24 -->
<path d="M208,1533 L228,1529 Q238,1528 241,1540 Q243,1552 238,1556 L215,1567" fill="#fff" stroke-width="3.4"/>
<ellipse cx="194.5" cy="1557" rx="18.5" ry="27" transform="rotate(-10 194.5 1557)" fill="#fff" stroke-width="3.6"/>
<path d="M192,1535 Q205,1545 209,1568 Q209,1578 203,1584" stroke-width="2.8"/>
<path d="M201,1533 Q212,1545 214,1566" stroke-width="2.6"/>
<path d="M188,1545 L199,1556 L186,1561 L201,1560 L196,1570" stroke-width="4.2"/>
<path d="M203.4,1584 L200.4,1610.6" stroke-width="2.6"/>
</g>

</svg></body></html>
